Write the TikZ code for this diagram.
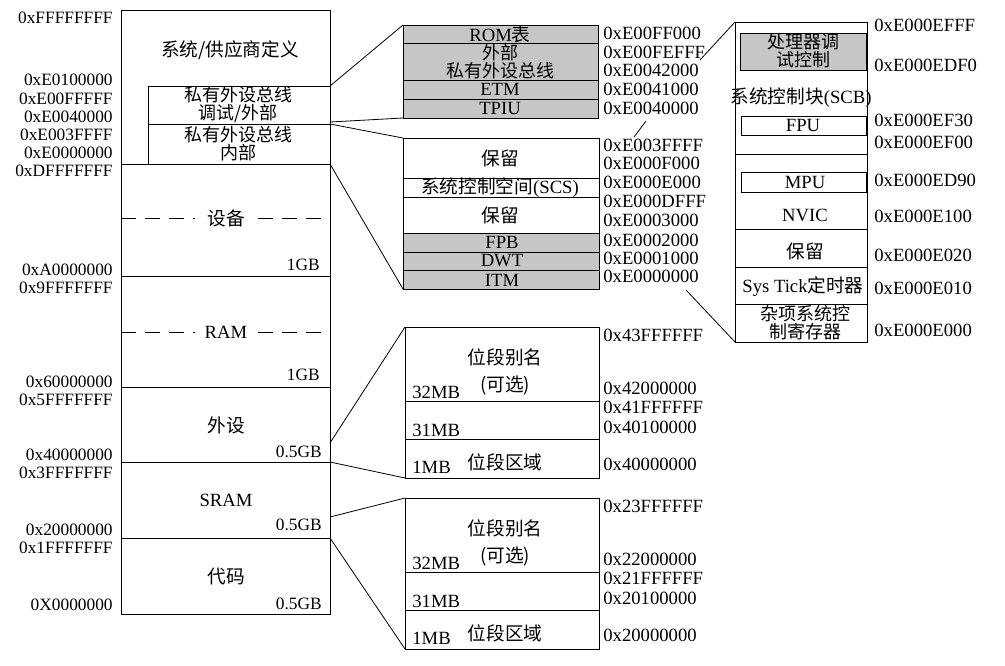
\documentclass[tikz,border=0pt]{standalone}
\usepackage{fontspec}
\setmainfont{Liberation Serif}
\newfontfamily\cjk{Noto Sans CJK SC}
\newcommand{\zh}[1]{{\cjk #1}}
\begin{document}
\begin{tikzpicture}[x=0.75pt,y=-0.75pt,font=\fontsize{14}{14}\selectfont,
  lab/.style={anchor=west,inner sep=0pt},
  labr/.style={anchor=east,inner sep=0pt,font=\fontsize{13}{13}\selectfont},
  txt/.style={inner sep=0pt,align=center},
  zz/.style={font=\cjk\fontsize{13.5}{13.5}\selectfont},
  gr/.style={fill=gray!45,draw=black}]
\useasboundingbox (0,0) rectangle (1005,665);
\tikzset{every path/.append style={line width=0.6pt}}
% left column
\draw (121,10) rectangle (330,614);
\draw (148,86) -- (330,86);
\draw (148,86) -- (148,164);
\draw (148,124) -- (330,124);
\foreach \y in {164,276,387,462,538} \draw (121,\y) -- (330,\y);
\draw[dash pattern=on 11pt off 7pt] (121,218) -- (195,218) (258,218) -- (330,218);
\draw[dash pattern=on 11pt off 7pt] (121,332) -- (195,332) (258,332) -- (330,332);
\node[txt] (sv) at (230,50) {\zh{系统/供应商定义}};
\node[txt,zz] (ppb1) at (238,105) {私有外设总线\\调试/外部};
\node[txt,zz] (ppb2) at (238,144) {私有外设总线\\内部};
\node[txt] (dev) at (226,218) {\zh{设备}};
\node[txt] (ram) at (226,332) {RAM};
\node[txt] (per) at (226,425) {\zh{外设}};
\node[txt] (sram) at (226,500) {SRAM};
\node[txt] (code) at (226,577) {\zh{代码}};
\node[labr] (g1) at (320,265) {1GB};
\node[labr] (g2) at (320,375) {1GB};
\node[labr] (g3) at (322,452) {0.5GB};
\node[labr] (g4) at (322,525) {0.5GB};
\node[labr] (g5) at (322,604) {0.5GB};
\foreach \t/\y in {0xFFFFFFFF/18,0xE0100000/80,0xE00FFFFF/99,0xE0040000/117,0xE003FFFF/135,0xE0000000/153,0xDFFFFFFF/171,0xA0000000/270,0x9FFFFFFF/288,0x60000000/382,0x5FFFFFFF/400,0x40000000/455,0x3FFFFFFF/473,0x20000000/530,0x1FFFFFFF/548,0X0000000/605}
  \node[labr] at (113,\y) {\t};
% top middle box
\draw[gr] (403,25) rectangle (598,43);
\draw[gr] (403,43) rectangle (598,80);
\draw[gr] (403,80) rectangle (598,99);
\draw[gr] (403,99) rectangle (598,118);
\node[txt] (rom) at (500,34) {ROM\zh{表}};
\node[txt,zz] (ext) at (500,62) {外部\\私有外设总线};
\node[txt] (etm) at (500,89) {ETM};
\node[txt] (tpiu) at (500,108) {TPIU};
\foreach \t/\y in {0xE00FF000/33,0xE00FEFFF/52,0xE0042000/70,0xE0041000/89,0xE0040000/108}
  \node[lab] at (603,\y) {\t};
% second middle box
\draw (403,138) rectangle (599,178);
\draw (403,178) rectangle (599,197);
\draw (403,197) rectangle (599,233);
\draw[gr] (403,233) rectangle (599,252);
\draw[gr] (403,252) rectangle (599,270);
\draw[gr] (403,270) rectangle (599,289);
\node[txt] (r1) at (500,158) {\zh{保留}};
\node[txt] (scs) at (500,188) {\zh{系统控制空间}(SCS)};
\node[txt] (r2) at (500,215) {\zh{保留}};
\node[txt] (fpb) at (502,242) {FPB};
\node[txt] (dwt) at (502,261) {DWT};
\node[txt] (itm) at (502,280) {ITM};
\foreach \t/\y in {0xE003FFFF/145,0xE000F000/163,0xE000E000/182,0xE000DFFF/201,0xE0003000/220,0xE0002000/240,0xE0001000/258,0xE0000000/276}
  \node[lab] at (603,\y) {\t};
\draw (646,121) -- (634,137);
% connectors
\draw (330,86) -- (403,25);
\draw (330,122) -- (403,118);
\draw (330,124) -- (403,138);
\draw (330,164) -- (403,289);
% right box
\draw (735,22) rectangle (867,342);
\draw[gr] (740,33) rectangle (866,70);
\node[txt,zz] (pdc) at (803,51) {处理器调\\试控制};
\node[txt] (scb) at (801,98) {\zh{系统控制块}(SCB)};
\draw (741,116) rectangle (866,135);
\node[txt] (fpu) at (803,125) {FPU};
\draw (735,154) -- (867,154);
\draw (741,172) rectangle (866,192);
\node[txt] (mpu) at (805,182) {MPU};
\node[txt] (nvic) at (805,215) {NVIC};
\draw (735,229) -- (867,229);
\node[txt] (r3) at (805,251) {\zh{保留}};
\draw (735,267) -- (867,267);
\node[txt] (st) at (803,287) {Sys Tick\zh{定时器}};
\draw (735,304) -- (867,304);
\node[txt,zz] (misc) at (805,323) {杂项系统控\\制寄存器};
\foreach \t/\y in {0xE000EFFF/25,0xE000EDF0/65,0xE000EF30/120,0xE000EF00/142,0xE000ED90/180,0xE000E100/216,0xE000E020/255,0xE000E010/288,0xE000E000/330}
  \node[lab] at (874,\y) {\t};
\draw (700,60) -- (735,22);
\draw (686,290) -- (735,342);
% bit-band boxes
\foreach \o/\a/\b/\c/\d/\e in {0/0x43FFFFFF/0x42000000/0x41FFFFFF/0x40100000/0x40000000, 171/0x23FFFFFF/0x22000000/0x21FFFFFF/0x20100000/0x20000000}{
  \begin{scope}[yshift=-\o*0.75pt]
  \draw (405,327) rectangle (599,478);
  \draw (405,401) -- (599,401);
  \draw (405,439) -- (599,439);
  \node[txt,font=\cjk\fontsize{14}{20}\selectfont] at (505,372) {位段别名\\(可选)};
  \node[lab] at (412,392) {32MB};
  \node[lab] at (412,430) {31MB};
  \node[lab] at (412,467) {1MB};
  \node[txt] at (505,462) {\zh{位段区域}};
  \node[lab] at (603,335) {\a};
  \node[lab] at (603,388) {\b};
  \node[lab] at (603,407) {\c};
  \node[lab] at (603,427) {\d};
  \node[lab] at (603,464) {\e};
  \end{scope}}
\draw (330,443) -- (405,327);
\draw (330,462) -- (405,478);
\draw (330,517) -- (405,498);
\draw (330,538) -- (405,649);
\end{tikzpicture}
\end{document}
